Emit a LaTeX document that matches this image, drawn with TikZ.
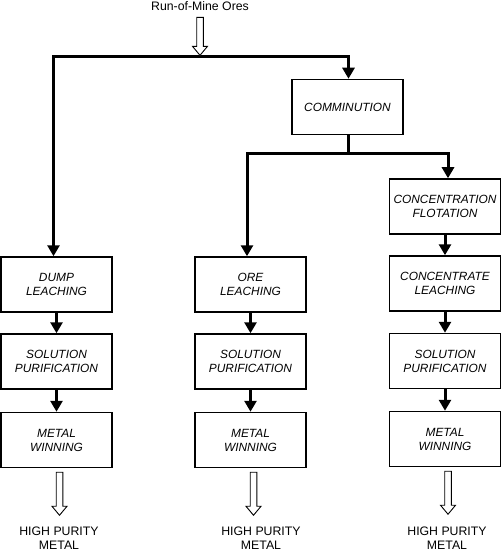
\documentclass[tikz,border=0pt]{standalone}
\usepackage{fontspec}
\setmainfont{Liberation Sans}
\usetikzlibrary{arrows.meta,positioning}

\begin{document}
\begin{tikzpicture}[x=1pt, y=-1pt,
    box/.style={draw, line width=1.5pt, minimum width=111pt, minimum height=55pt, inner sep=0pt, align=center, font=\fontsize{11.9}{14}\selectfont\itshape},
    plaintext/.style={inner sep=0pt, align=center, font=\fontsize{12.3}{14}\selectfont},
    arrow/.style={-{Triangle[length=11pt,width=12pt]}, line width=3pt},
    trunk/.style={line width=3pt},
    pics/hollow/.style={code={
        \draw[line width=0.9pt, fill=white] (-3.3,0) -- (-3.3,#1-9) -- (-7.5,#1-9) -- (0,#1) -- (7.5,#1-9) -- (3.3,#1-9) -- (3.3,0) -- cycle;
    }}
]
    \useasboundingbox (0,0) rectangle (502,553);

    \node[plaintext, anchor=base] (ores) at (200,11) {Run-of-Mine Ores};
    \coordinate (split) at (200,57);
    \coordinate (fork) at (348.5,154);

    \node[box] (comm) at (347.5,107) {COMMINUTION};

    \node[box] (dump) at (56.5,284.5) {DUMP\\LEACHING};
    \node[box] (lsol) at (56.5,361.5) {SOLUTION\\PURIFICATION};
    \node[box] (lwin) at (56.5,440) {METAL\\WINNING};

    \node[box] (ore) at (250.5,284.5) {ORE\\LEACHING};
    \node[box] (msol) at (250.5,361.5) {SOLUTION\\PURIFICATION};
    \node[box] (mwin) at (250.5,440) {METAL\\WINNING};

    \node[box] (conc) at (445,206.5) {CONCENTRATION\\FLOTATION};
    \node[box] (cleach) at (445,283.5) {CONCENTRATE\\LEACHING};
    \node[box] (rsol) at (445,361) {SOLUTION\\PURIFICATION};
    \node[box] (rwin) at (445,439) {METAL\\WINNING};

    \draw[arrow] (split) -| ([xshift=1pt]comm.north);
    \draw[arrow] (split) -| ([xshift=-3pt]dump.north);
    \draw[trunk] ([xshift=1pt]comm.south) -- (fork);
    \draw[arrow] (fork) -| ([xshift=-3.5pt]ore.north);
    \draw[arrow] (fork) -| ([xshift=3pt]conc.north);

    \draw[arrow] (dump) -- (lsol);
    \draw[arrow] (lsol) -- (lwin);
    \draw[arrow] (ore) -- (msol);
    \draw[arrow] (msol) -- (mwin);
    \draw[arrow] (conc) -- (cleach);
    \draw[arrow] (cleach) -- (rsol);
    \draw[arrow] (rsol) -- (rwin);

    % hollow arrows in and out
    \pic at ([yshift=-6pt]ores.south) {hollow=38};
    \pic at ([xshift=3pt,yshift=-4pt]lwin.south) {hollow=43};
    \pic at ([xshift=3pt,yshift=-4pt]mwin.south) {hollow=43};
    \pic at ([xshift=3pt,yshift=-4pt]rwin.south) {hollow=43};

    \node[plaintext] (lout) at (59,538.5) {HIGH PURITY\\METAL};
    \node[plaintext] (mout) at (261,538.5) {HIGH PURITY\\METAL};
    \node[plaintext] (rout) at (447,538.5) {HIGH PURITY\\METAL};
\end{tikzpicture}
\end{document}
